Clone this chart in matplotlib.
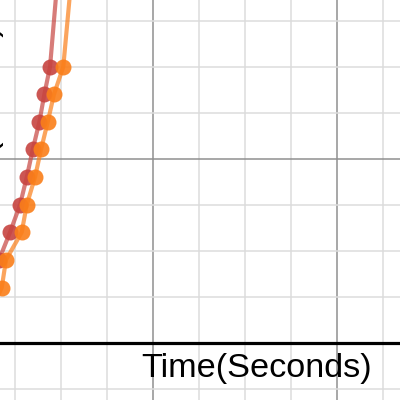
import matplotlib
matplotlib.use("Agg")
import matplotlib.pyplot as plt
from matplotlib.ticker import MultipleLocator, NullFormatter

# Data (time in seconds, distance in meters); some points lie beyond the visible window
red_time = [0.12, 0.18, 0.329, 0.449, 0.558, 0.631, 0.696, 0.768, 0.822, 0.884, 0.99]
red_dist = [0.3, 0.6, 0.9, 1.2, 1.5, 1.8, 2.1, 2.4, 2.7, 3.0, 4.25]
orange_time = [0.22, 0.359, 0.405, 0.576, 0.631, 0.721, 0.786, 0.859, 0.927, 1.028, 1.156]
orange_dist = [0.3, 0.598, 0.9, 1.2, 1.5, 1.8, 2.1, 2.4, 2.7, 3.0, 4.4]

x_label = "Time(Seconds)"
y_label = "Distance(Meters)"

RED = "#c74440"
ORANGE = "#fa7e19"

fig = plt.figure(figsize=(4, 4), dpi=100)
ax = fig.add_axes([0, 0, 1, 1])
ax.set_xlim(0.340, 4.688)
ax.set_ylim(-0.623, 3.725)

ax.xaxis.set_major_locator(MultipleLocator(2))
ax.xaxis.set_minor_locator(MultipleLocator(0.5))
ax.yaxis.set_major_locator(MultipleLocator(2))
ax.yaxis.set_minor_locator(MultipleLocator(0.5))
ax.xaxis.set_major_formatter(NullFormatter())
ax.yaxis.set_major_formatter(NullFormatter())
ax.tick_params(which="both", length=0)
ax.grid(which="minor", color="#dcdcdc", linewidth=1.1, zorder=0)
ax.grid(which="major", color="#8f8f8f", linewidth=1.1, zorder=0)
ax.set_axisbelow(True)
for s in ax.spines.values():
    s.set_visible(False)

ax.axhline(0, color="black", linewidth=2.3, zorder=1)
ax.axvline(0, color="black", linewidth=2.3, zorder=1)

ax.plot(red_time, red_dist, color=RED, lw=3.0, alpha=0.7, zorder=2, solid_capstyle="round")
ax.plot(red_time, red_dist, "o", color=RED, ms=11.5, alpha=0.9, mew=0, zorder=3)
ax.plot(orange_time, orange_dist, color=ORANGE, lw=3.0, alpha=0.7, zorder=4, solid_capstyle="round")
ax.plot(orange_time, orange_dist, "o", color=ORANGE, ms=11.5, alpha=0.9, mew=0, zorder=5)

fig.text(141 / 400, 23.5 / 400, x_label, fontsize=24.7, family="Liberation Sans",
         ha="left", va="baseline", color="black")
fig.text(-5.5 / 400, 378 / 400, y_label, fontsize=24.7, family="Liberation Sans",
         rotation=90, rotation_mode="anchor", ha="right", va="baseline", color="black")

fig.savefig("out.png", dpi=100)
